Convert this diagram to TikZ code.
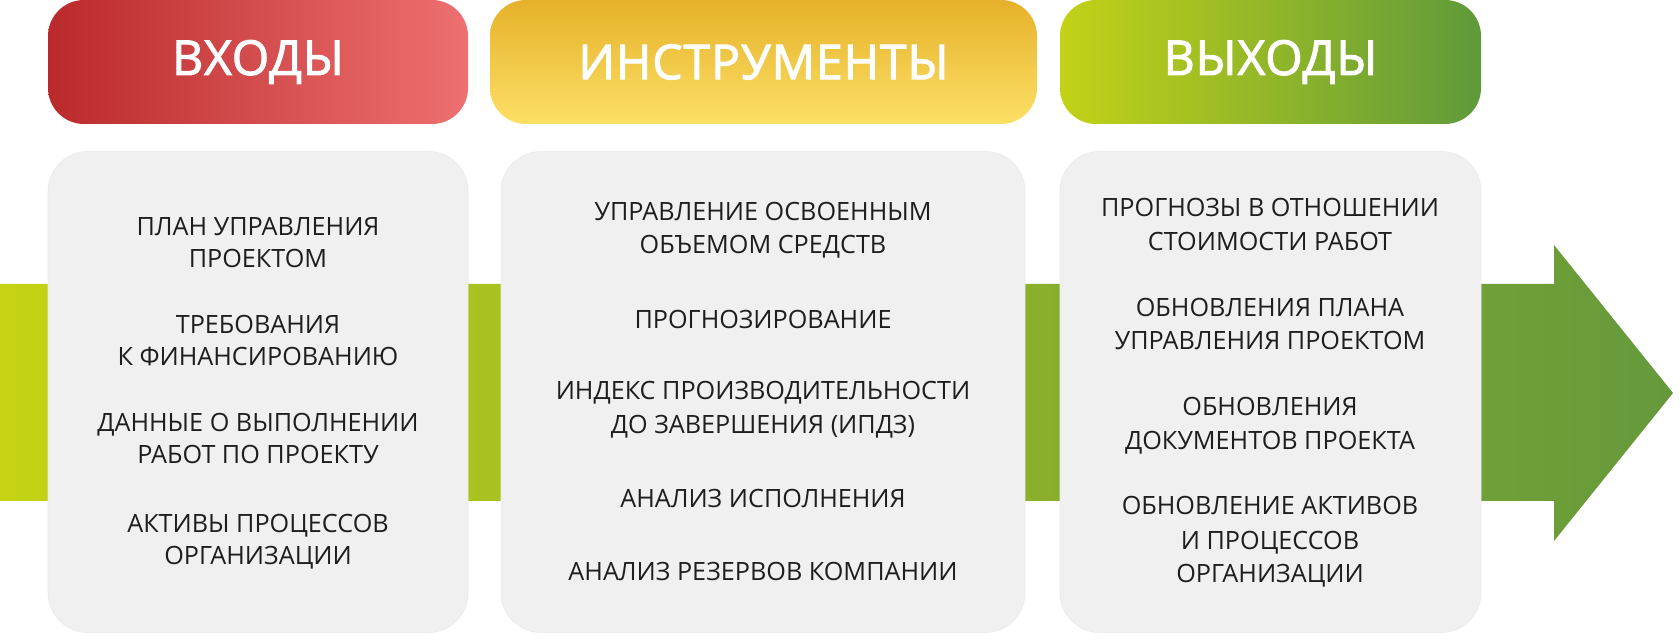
\documentclass[tikz,border=0pt]{standalone}
\usepackage{fontspec}
\setmainfont{Open Sans}
\newfontfamily\titlefont[FakeBold=2.2,LetterSpace=2]{Open Sans}
\definecolor{rA}{HTML}{BA2A2C}
\definecolor{rB}{HTML}{EE7070}
\definecolor{yA}{HTML}{E6B12A}
\definecolor{yB}{HTML}{FCE066}
\definecolor{gA}{HTML}{C3D217}
\definecolor{gB}{HTML}{5F9A3A}
\definecolor{bandA}{HTML}{C5D314}
\definecolor{bandB}{HTML}{65993C}
\definecolor{boxfill}{HTML}{F0F0F0}
\definecolor{boxline}{HTML}{EBEBEB}
\definecolor{txt}{HTML}{1E1E1E}
\begin{document}
\begin{tikzpicture}[x=0.5pt,y=-0.5pt,
  header/.style={rounded corners=18pt, minimum height=62pt, inner sep=0pt, text=white,
    font=\titlefont\fontsize{24}{28}\selectfont},
  panel/.style={rounded corners=20pt, fill=boxfill, draw=boxline, line width=0.4pt,
    minimum height=240.5pt, inner sep=0pt},
  item/.style={anchor=base, inner sep=0pt, text=txt, font=\fontsize{12.6}{16}\selectfont}]
\useasboundingbox (0,0) rectangle (1680,640);
% band arrow
\shade[left color=bandA, right color=bandB]
  (0,284) -- (1554,284) -- (1554,245) -- (1673,393) -- (1554,541) -- (1554,501) -- (0,501) -- cycle;
% headers
\node[header, left color=rA, right color=rB, minimum width=210pt] (h1) at (258,62) {ВХОДЫ};
\node[header, top color=yA, bottom color=yB, minimum width=273.5pt] (h2) at (763.5,62) {ИНСТРУМЕНТЫ};
\node[header, left color=gA, right color=gB, minimum width=210.5pt] (h3) at (1270.5,62) {ВЫХОДЫ};
% panels
\node[panel, minimum width=210pt] (p1) at (258,392) {};
\node[panel, minimum width=262pt] (p2) at (763,392) {};
\node[panel, minimum width=210.5pt] (p3) at (1270.5,392) {};
% column 1
\node[item] (a1) at (258,236) {ПЛАН УПРАВЛЕНИЯ};
\node[item] (a2) at (258,268) {ПРОЕКТОМ};
\node[item] (a3) at (258,334) {ТРЕБОВАНИЯ};
\node[item] (a4) at (258,366) {К ФИНАНСИРОВАНИЮ};
\node[item] (a5) at (258,432) {ДАННЫЕ О ВЫПОЛНЕНИИ};
\node[item] (a6) at (258,464) {РАБОТ ПО ПРОЕКТУ};
\node[item] (a7) at (258,532) {АКТИВЫ ПРОЦЕССОВ};
\node[item] (a8) at (258,564) {ОРГАНИЗАЦИИ};
% column 2
\node[item] (b1) at (763,221) {УПРАВЛЕНИЕ ОСВОЕННЫМ};
\node[item] (b2) at (763,254) {ОБЪЕМОМ СРЕДСТВ};
\node[item] (b3) at (763,329) {ПРОГНОЗИРОВАНИЕ};
\node[item] (b4) at (763,400) {ИНДЕКС ПРОИЗВОДИТЕЛЬНОСТИ};
\node[item] (b5) at (763,434) {ДО ЗАВЕРШЕНИЯ (ИПДЗ)};
\node[item] (b6) at (763,508) {АНАЛИЗ ИСПОЛНЕНИЯ};
\node[item] (b7) at (763,580) {АНАЛИЗ РЕЗЕРВОВ КОМПАНИИ};
% column 3
\node[item] (c1) at (1270,217) {ПРОГНОЗЫ В ОТНОШЕНИИ};
\node[item] (c2) at (1270,251) {СТОИМОСТИ РАБОТ};
\node[item] (c3) at (1270,317) {ОБНОВЛЕНИЯ ПЛАНА};
\node[item] (c4) at (1270,350) {УПРАВЛЕНИЯ ПРОЕКТОМ};
\node[item] (c5) at (1270,416) {ОБНОВЛЕНИЯ};
\node[item] (c6) at (1270,450) {ДОКУМЕНТОВ ПРОЕКТА};
\node[item] (c7) at (1270,515) {ОБНОВЛЕНИЕ АКТИВОВ};
\node[item] (c8) at (1270,549) {И ПРОЦЕССОВ};
\node[item] (c9) at (1270,582) {ОРГАНИЗАЦИИ};
\end{tikzpicture}
\end{document}
